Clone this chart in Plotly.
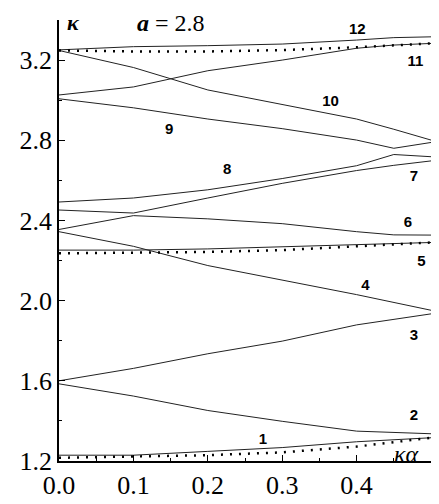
import plotly.graph_objects as go

x = [0.0, 0.1, 0.2, 0.3, 0.4, 0.5]
xk = [0.0, 0.1, 0.2, 0.3, 0.4, 0.45, 0.5]

band1 = [1.229, 1.229, 1.248, 1.267, 1.296, 1.316]
band2 = [1.585, 1.524, 1.452, 1.398, 1.349, 1.336]
band3 = [1.600, 1.662, 1.735, 1.798, 1.879, 1.934]
band4 = [2.344, 2.271, 2.175, 2.103, 2.030, 1.952]
band5 = [2.252, 2.252, 2.258, 2.268, 2.280, 2.290]
band6 = [2.355, 2.424, 2.408, 2.384, 2.344, 2.328, 2.327]
band7 = [2.452, 2.437, 2.512, 2.585, 2.649, 2.675, 2.697]
band8 = [2.492, 2.512, 2.553, 2.609, 2.673, 2.729, 2.718]
band9 = [3.007, 2.962, 2.906, 2.858, 2.801, 2.760, 2.789]
band10 = [3.248, 3.163, 3.051, 2.978, 2.906, 2.855, 2.801]
band11 = [3.026, 3.066, 3.147, 3.200, 3.259, 3.275, 3.283]
band12 = [3.251, 3.267, 3.272, 3.280, 3.300, 3.312, 3.316]

dot1 = [1.216, 1.222, 1.229, 1.243, 1.272, 1.316]
dot5 = [2.236, 2.240, 2.243, 2.252, 2.270, 2.290]
dot12 = [3.248, 3.243, 3.243, 3.250, 3.264, 3.283]

labels = ["12", "11", "10", "9", "8", "7", "6", "5", "4", "3", "2", "1"]
label_x = [0.401, 0.479, 0.365, 0.148, 0.226, 0.477, 0.469, 0.487, 0.412, 0.477, 0.477, 0.274]
label_y = [3.35, 3.19, 2.988, 2.848, 2.65, 2.617, 2.386, 2.193, 2.072, 1.822, 1.422, 1.306]

fig = go.Figure()
for xs, ys in [(x, band1), (x, band2), (x, band3), (x, band4), (x, band5),
               (xk, band6), (xk, band7), (xk, band8), (xk, band9),
               (xk, band10), (xk, band11), (xk, band12)]:
    fig.add_trace(go.Scatter(x=xs, y=ys, mode="lines", line=dict(color="#222", width=1),
                             showlegend=False))
for ys in [dot1, dot5, dot12]:
    fig.add_trace(go.Scatter(x=x, y=ys, mode="lines", line=dict(color="black", width=2.5, dash="2px,7px"),
                             showlegend=False))

fig.add_trace(go.Scatter(x=label_x, y=label_y, mode="text", text=["<b>%s</b>" % t for t in labels],
                         textfont=dict(family="Liberation Sans", size=15, color="black"),
                         showlegend=False))

fig.add_annotation(x=0.467, y=1.234, text="<i>κα</i>", showarrow=False,
                   font=dict(family="Liberation Serif", size=24))
fig.add_annotation(x=0.02, y=3.39, text="<b><i>κ</i></b>", showarrow=False,
                   font=dict(family="Liberation Serif", size=22))
fig.add_annotation(x=0.15, y=3.385, text="<b><i>a</i></b> = 2.8", showarrow=False,
                   font=dict(family="Liberation Serif", size=24))

fig.update_layout(
    width=439, height=504, margin=dict(l=49, r=16, t=12, b=35),
    plot_bgcolor="white", paper_bgcolor="white",
    font=dict(family="Liberation Serif", size=26, color="black"),
)
fig.update_xaxes(range=[0, 0.5], tickvals=[0, 0.1, 0.2, 0.3, 0.4, 0.5], tickformat=".1f",
                 showgrid=False, zeroline=False, showline=True, linecolor="black", linewidth=1.5,
                 ticks="inside", ticklen=6, tickcolor="black",
                 minor=dict(dtick=0.05, ticks="inside", ticklen=3, tickcolor="black"))
fig.update_yaxes(range=[1.2, 3.4], tickvals=[1.2, 1.6, 2.0, 2.4, 2.8, 3.2], tickformat=".1f",
                 showgrid=False, zeroline=False, showline=True, linecolor="black", linewidth=1.5,
                 ticks="inside", ticklen=6, tickcolor="black",
                 minor=dict(dtick=0.2, ticks="inside", ticklen=3, tickcolor="black"))

fig.write_html("out.html")
